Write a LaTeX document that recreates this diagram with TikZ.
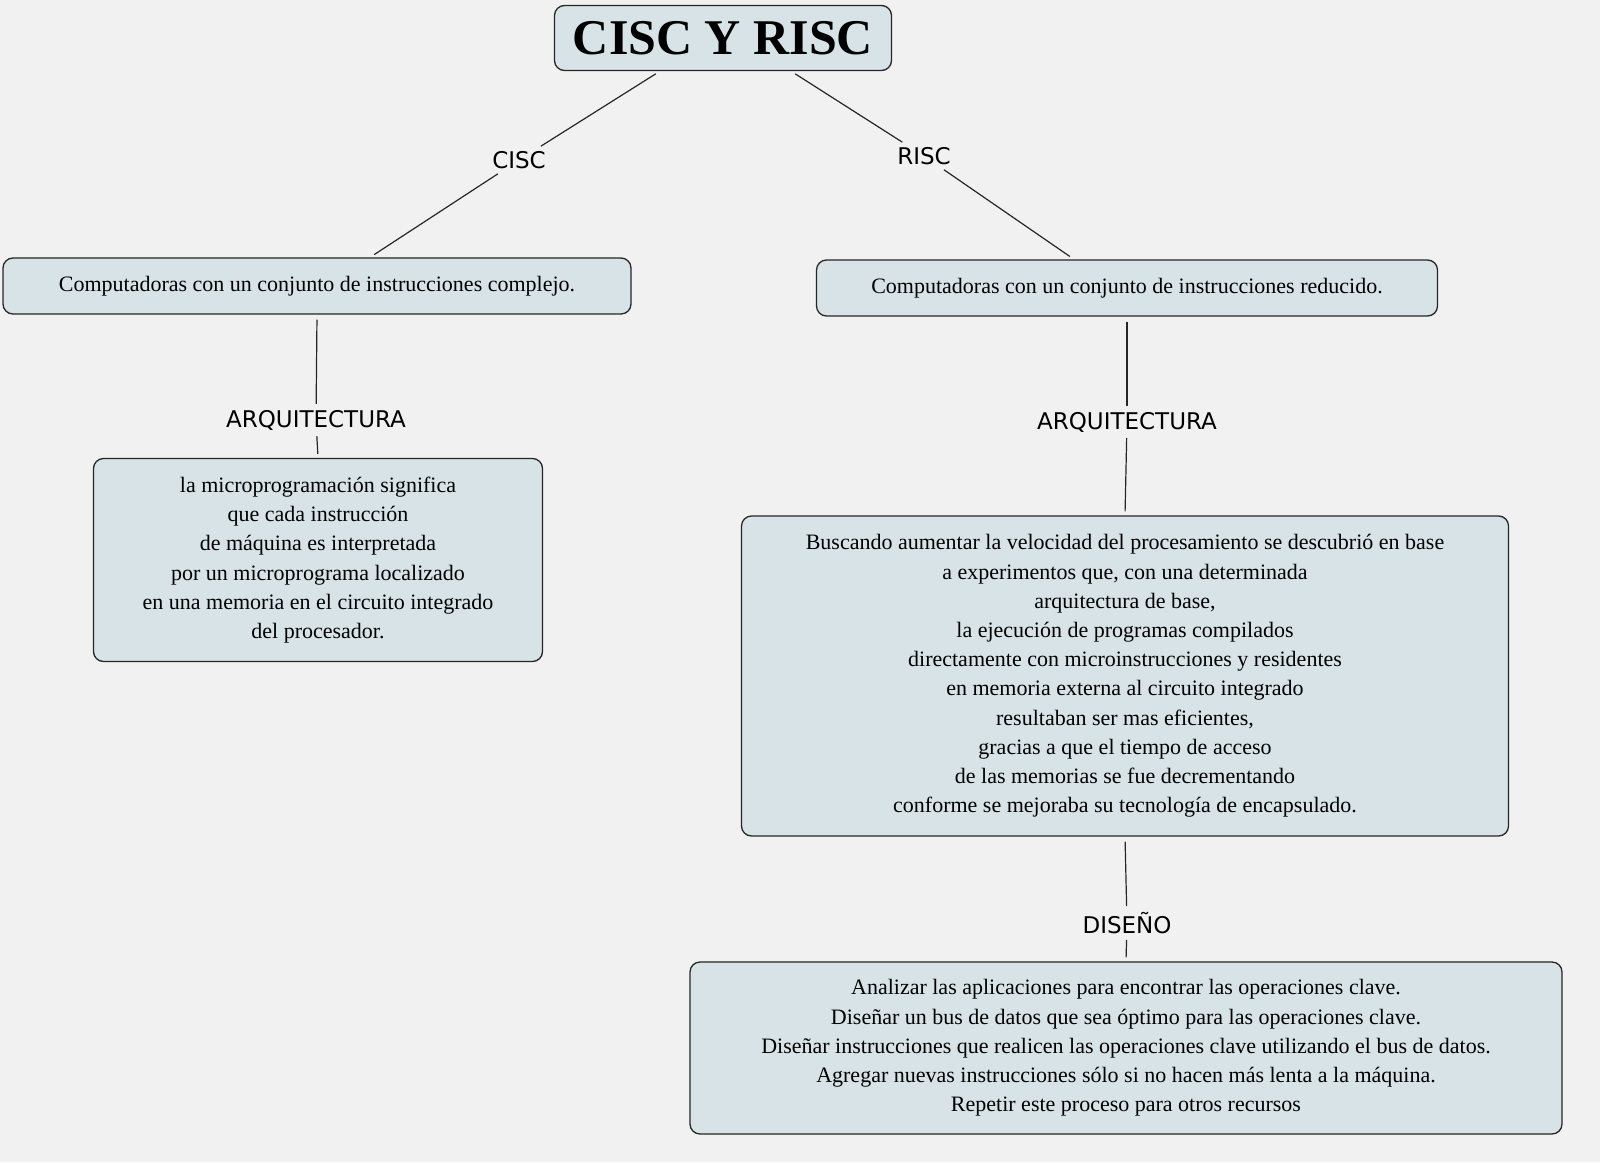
\documentclass[tikz,border=0pt]{standalone}
\usepackage{fontspec}
\setmainfont{Liberation Serif}
\newfontfamily\lbl{DejaVu Sans}
\begin{document}
\begin{tikzpicture}[x=1pt,y=-1pt,
  box/.style={draw=black!85,line width=1.3pt,rounded corners=10pt,fill=boxc,align=center,inner sep=0pt,font=\fontsize{22}{29.2}\selectfont},
  lab/.style={font=\lbl\fontsize{23}{26}\selectfont,inner sep=6pt,fill=bg},
  ln/.style={line width=1.2pt,black!85}]
\definecolor{bg}{HTML}{F1F1F1}
\definecolor{boxc}{HTML}{D8E3E7}
\fill[bg] (0,0) rectangle (1600,1162);
\useasboundingbox (0,0) rectangle (1600,1162);
\node[box,minimum width=337,minimum height=65,font=\bfseries\fontsize{50}{56}\selectfont] (title) at (723,38) {CISC Y RISC};
\node[box,minimum width=628,minimum height=56] (b1) at (317,286) {Computadoras con un conjunto de instrucciones complejo.};
\node[box,minimum width=621,minimum height=56] (b2) at (1127,288) {Computadoras con un conjunto de instrucciones reducido.};
\node[box,minimum width=449,minimum height=203] (b3) at (318,560) {la microprogramación significa\\que cada instrucción\\de máquina es interpretada\\por un microprograma localizado\\en una memoria en el circuito integrado\\del procesador.};
\node[box,minimum width=767,minimum height=320] (b4) at (1125,676) {Buscando aumentar la velocidad del procesamiento se descubrió en base\\a experimentos que, con una determinada\\arquitectura de base,\\la ejecución de programas compilados\\directamente con microinstrucciones y residentes\\en memoria externa al circuito integrado\\resultaban ser mas eficientes,\\gracias a que el tiempo de acceso\\de las memorias se fue decrementando\\conforme se mejoraba su tecnología de encapsulado.};
\node[box,minimum width=872,minimum height=172] (b5) at (1126,1048) {Analizar las aplicaciones para encontrar las operaciones clave.\\Diseñar un bus de datos que sea óptimo para las operaciones clave.\\Diseñar instrucciones que realicen las operaciones clave utilizando el bus de datos.\\Agregar nuevas instrucciones sólo si no hacen más lenta a la máquina.\\Repetir este proceso para otros recursos};
\node[lab] (cisc) at (519,160) {CISC};
\node[lab] (risc) at (924,156) {RISC};
\node[lab] (a1) at (316,420) {ARQUITECTURA};
\node[lab] (a2) at (1127,422) {ARQUITECTURA};
\node[lab] (d) at (1127,923) {DISEÑO};
\begin{scope}[on background layer/.style={}]
\draw[ln,shorten <=5pt,shorten >=-2pt] ([xshift=-63pt]title.south) -- (cisc);
\draw[ln,shorten <=-2pt,shorten >=5pt] (cisc) -- ([xshift=53pt]b1.north);
\draw[ln,shorten <=5pt,shorten >=-2pt] ([xshift=68pt]title.south) -- (risc);
\draw[ln,shorten <=-2pt,shorten >=5pt] (risc) -- ([xshift=-53pt]b2.north);
\draw[ln,shorten <=5pt] (b1.south) -- (a1);
\draw[ln,shorten >=4pt] (a1) -- (b3.north);
\draw[ln,shorten <=5pt] (b2.south) -- (a2);
\draw[ln,shorten >=4pt] (a2) -- (b4.north);
\draw[ln,shorten <=5pt] (b4.south) -- (d);
\draw[ln,shorten >=4pt] (d) -- (b5.north);
\end{scope}
\end{tikzpicture}
\end{document}
